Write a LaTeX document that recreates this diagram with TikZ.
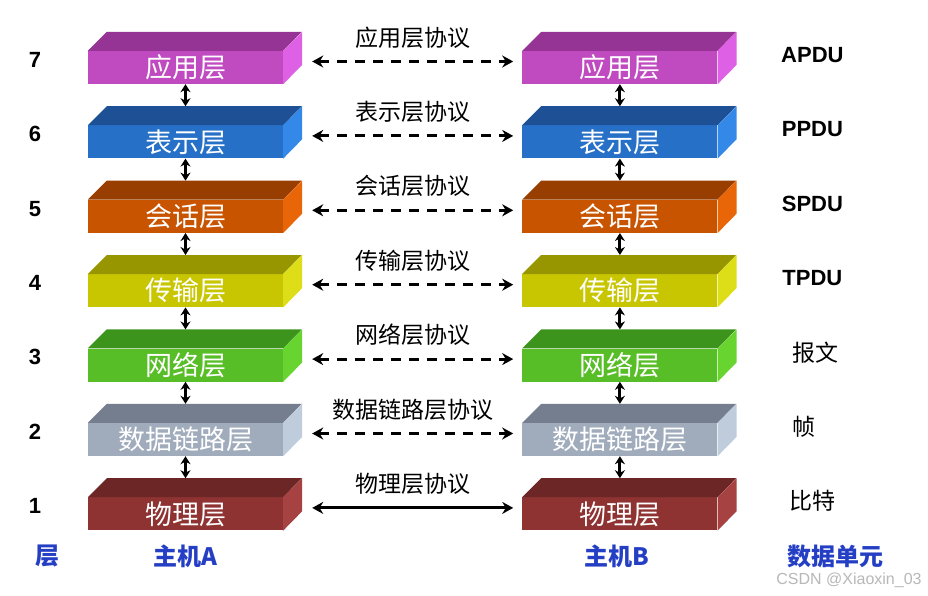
\documentclass[tikz,border=0pt]{standalone}
\usepackage{fontspec}
\setmainfont{Liberation Sans}
\newfontfamily\cjk{Noto Sans CJK SC}
\usepackage{tikz}
\usetikzlibrary{arrows.meta,positioning,calc}

\definecolor{c7}{RGB}{192,74,192}
\definecolor{c7t}{RGB}{150,52,150}
\definecolor{c7r}{RGB}{222,96,228}
\definecolor{c6}{RGB}{38,112,200}
\definecolor{c6t}{RGB}{30,80,150}
\definecolor{c6r}{RGB}{52,136,232}
\definecolor{c5}{RGB}{200,84,0}
\definecolor{c5t}{RGB}{152,62,0}
\definecolor{c5r}{RGB}{232,102,8}
\definecolor{c4}{RGB}{200,198,0}
\definecolor{c4t}{RGB}{152,150,0}
\definecolor{c4r}{RGB}{222,222,24}
\definecolor{c3}{RGB}{88,190,40}
\definecolor{c3t}{RGB}{60,148,28}
\definecolor{c3r}{RGB}{104,212,48}
\definecolor{c2}{RGB}{160,172,188}
\definecolor{c2t}{RGB}{116,126,142}
\definecolor{c2r}{RGB}{190,204,220}
\definecolor{c1}{RGB}{142,50,50}
\definecolor{c1t}{RGB}{108,38,38}
\definecolor{c1r}{RGB}{166,66,66}
\definecolor{hostblue}{RGB}{36,62,196}

\begin{document}
\begin{tikzpicture}[
    layerbox/.style={rectangle, inner sep=0pt, minimum width=195pt, minimum height=33pt,
      text=white, font=\cjk\fontsize{27}{30}\selectfont},
    proto/.style={<->, >={Stealth[length=11pt,width=12pt]}, line width=3pt, dash pattern=on 10pt off 8pt},
    physline/.style={<->, >={Stealth[length=11pt,width=12pt]}, line width=3pt},
    updown/.style={<->, >={Stealth[length=8pt,width=10pt]}, line width=3pt},
    protolabel/.style={font=\cjk\fontsize{23}{26}\selectfont},
    num/.style={font=\bfseries\fontsize{22}{24}\selectfont},
    unit/.style={font=\bfseries\fontsize{22}{24}\selectfont},
    unitcn/.style={font=\cjk\fontsize{23}{26}\selectfont},
    host/.style={font=\cjk\bfseries\fontsize{24}{26}\selectfont, text=hostblue}
]
\useasboundingbox[fill=white] (0,0) rectangle (928pt,-596pt);

% host A
\node[layerbox, fill=c7] (a7) at (185.5pt,-67.5pt) {\raisebox{-2pt}{应用层}};
\node[layerbox, fill=c6, below=41pt of a7] (a6) {\raisebox{-2pt}{表示层}};
\node[layerbox, fill=c5, below=41pt of a6] (a5) {\raisebox{-2pt}{会话层}};
\node[layerbox, fill=c4, below=41pt of a5] (a4) {\raisebox{-2pt}{传输层}};
\node[layerbox, fill=c3, below=41pt of a4] (a3) {\raisebox{-2pt}{网络层}};
\node[layerbox, fill=c2, below=41pt of a3] (a2) {\raisebox{-2pt}{数据链路层}};
\node[layerbox, fill=c1, below=41pt of a2] (a1) {\raisebox{-2pt}{物理层}};

% host B
\node[layerbox, fill=c7, right=239pt of a7] (b7) {\raisebox{-2pt}{应用层}};
\node[layerbox, fill=c6, below=41pt of b7] (b6) {\raisebox{-2pt}{表示层}};
\node[layerbox, fill=c5, below=41pt of b6] (b5) {\raisebox{-2pt}{会话层}};
\node[layerbox, fill=c4, below=41pt of b5] (b4) {\raisebox{-2pt}{传输层}};
\node[layerbox, fill=c3, below=41pt of b4] (b3) {\raisebox{-2pt}{网络层}};
\node[layerbox, fill=c2, below=41pt of b3] (b2) {\raisebox{-2pt}{数据链路层}};
\node[layerbox, fill=c1, below=41pt of b2] (b1) {\raisebox{-2pt}{物理层}};

% 3D faces
\foreach \n/\c in {a7/c7,a6/c6,a5/c5,a4/c4,a3/c3,a2/c2,a1/c1,b7/c7,b6/c6,b5/c5,b4/c4,b3/c3,b2/c2,b1/c1}{
  \fill[\c t] (\n.north west) -- ++(19pt,19pt) -- ++(195pt,0) -- (\n.north east) -- cycle;
  \fill[\c r] (\n.north east) -- ++(19pt,19pt) -- ++(0,-33pt) -- (\n.south east) -- cycle;
}

% arrows between layers
\foreach \u/\l in {7/6,6/5,5/4,4/3,3/2,2/1}{
  \draw[updown] (a\u.south) -- ([yshift=19pt]a\l.north);
  \draw[updown] (b\u.south) -- ([yshift=19pt]b\l.north);
}

% peer protocols
\draw[proto] ([xshift=29pt,yshift=6pt]a7.east) -- ([xshift=-9pt,yshift=6pt]b7.west)
  node[midway, yshift=24pt, protolabel] {应用层协议};
\draw[proto] ([xshift=29pt,yshift=6pt]a6.east) -- ([xshift=-9pt,yshift=6pt]b6.west)
  node[midway, yshift=24pt, protolabel] {表示层协议};
\draw[proto] ([xshift=29pt,yshift=6pt]a5.east) -- ([xshift=-9pt,yshift=6pt]b5.west)
  node[midway, yshift=24pt, protolabel] {会话层协议};
\draw[proto] ([xshift=29pt,yshift=6pt]a4.east) -- ([xshift=-9pt,yshift=6pt]b4.west)
  node[midway, yshift=24pt, protolabel] {传输层协议};
\draw[proto] ([xshift=29pt,yshift=6pt]a3.east) -- ([xshift=-9pt,yshift=6pt]b3.west)
  node[midway, yshift=24pt, protolabel] {网络层协议};
\draw[proto] ([xshift=29pt,yshift=6pt]a2.east) -- ([xshift=-9pt,yshift=6pt]b2.west)
  node[midway, yshift=24pt, protolabel] {数据链路层协议};
\draw[physline] ([xshift=29pt,yshift=6pt]a1.east) -- ([xshift=-9pt,yshift=6pt]b1.west)
  node[midway, yshift=24pt, protolabel] {物理层协议};

% layer numbers
\node[num] (n7) at ([xshift=-150.5pt,yshift=-9pt]a7.north) {7};
\node[num] (n6) at ([xshift=-150.5pt,yshift=-9pt]a6.north) {6};
\node[num] (n5) at ([xshift=-150.5pt,yshift=-9pt]a5.north) {5};
\node[num] (n4) at ([xshift=-150.5pt,yshift=-9pt]a4.north) {4};
\node[num] (n3) at ([xshift=-150.5pt,yshift=-9pt]a3.north) {3};
\node[num] (n2) at ([xshift=-150.5pt,yshift=-9pt]a2.north) {2};
\node[num] (n1) at ([xshift=-150.5pt,yshift=-9pt]a1.north) {1};

% data units
\node[unit] (u7) at ([xshift=192.5pt,yshift=-4pt]b7.north) {APDU};
\node[unit] (u6) at ([xshift=192.5pt,yshift=-4pt]b6.north) {PPDU};
\node[unit] (u5) at ([xshift=192.5pt,yshift=-4pt]b5.north) {SPDU};
\node[unit] (u4) at ([xshift=192.5pt,yshift=-4pt]b4.north) {TPDU};
\node[unitcn] (u3) at ([xshift=195.5pt,yshift=-4pt]b3.north) {报文};
\node[unitcn] (u2) at ([xshift=184pt,yshift=-4pt]b2.north) {帧};
\node[unitcn] (u1) at ([xshift=193pt,yshift=-4pt]b1.north) {比特};

% bottom labels
\node[host] (ceng) at (47pt,-556pt) {层};
\node[host] (hosta) at (185pt,-556pt) {主机A};
\node[host] (hostb) at (617pt,-556pt) {主机B};
\node[host] (dataunit) at (835pt,-556pt) {数据单元};

\node[text=black!28, font=\fontsize{16}{18}\selectfont] (mark) at (849pt,-580pt) {CSDN @Xiaoxin\_03};

\end{tikzpicture}
\end{document}
